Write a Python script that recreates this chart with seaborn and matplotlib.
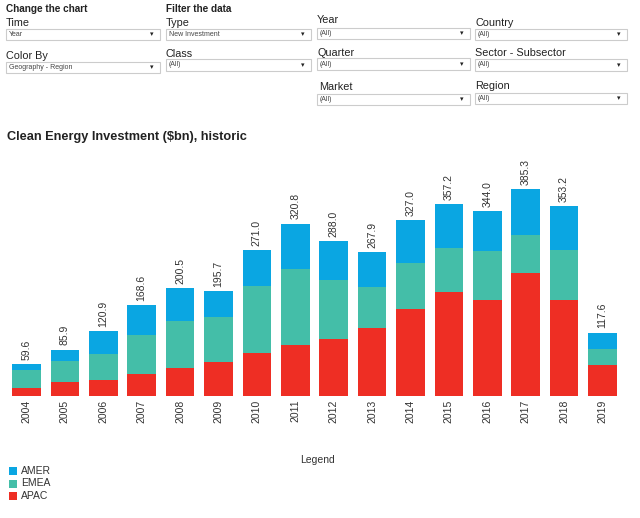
import numpy as np
import pandas as pd
import matplotlib
matplotlib.use("Agg")
import matplotlib.pyplot as plt
import seaborn as sns
from matplotlib.patches import Rectangle

# values ($bn)
years = ["2004", "2005", "2006", "2007", "2008", "2009", "2010", "2011",
         "2012", "2013", "2014", "2015", "2016", "2017", "2018", "2019"]
apac = [14.9, 25.5, 29.2, 40.4, 51.6, 62.2, 79.6, 93.8,
        106.3, 126.2, 162.2, 192.8, 178.4, 228.7, 178.4, 57.8]
emea = [32.9, 39.2, 48.5, 72.7, 87.0, 84.5, 124.3, 142.3,
        109.4, 75.9, 85.8, 82.6, 91.4, 70.8, 93.2, 29.8]
totals = [59.6, 85.9, 120.9, 168.6, 200.5, 195.7, 271.0, 320.8,
          288.0, 267.9, 327.0, 357.2, 344.0, 385.3, 353.2, 117.6]

regions = ["AMER", "EMEA", "APAC"]
colors = {"AMER": "#0AA6E2", "EMEA": "#44BEA8", "APAC": "#EE2E24"}

sns.set_theme(style="white")
plt.rcParams["font.family"] = ["Liberation Sans", "DejaVu Sans"]

df = pd.DataFrame({"year": years, "apac": apac, "emea": emea, "total": totals})
df["emea_top"] = df["apac"] + df["emea"]

W, H = 640, 518
fig = plt.figure(figsize=(W / 100, H / 100), dpi=100)


def px(x, y):
    return x / W, 1 - y / H


# ---- filter panel (static) ----
def dropdown(x0, x1, y0, y1, label):
    fx, fy = px(x0, y1)
    fig.patches.append(Rectangle((fx, fy), (x1 - x0) / W, (y1 - y0) / H,
                                 transform=fig.transFigure, facecolor="white",
                                 edgecolor="#cccccc", linewidth=0.8))
    tx, ty = px(x0 + 3, (y0 + y1) / 2)
    fig.text(tx, ty, label, fontsize=5, color="#444444", va="center")
    ax_, ay_ = px(x1 - 8, (y0 + y1) / 2)
    fig.text(ax_, ay_, "\u25BE", fontsize=5, color="#222222", va="center", ha="center",
             family=["DejaVu Sans"])


def label(x, y, s, bold=False, size=7.8):
    fx, fy = px(x, y)
    fig.text(fx, fy, s, fontsize=size, color="#222222", va="center",
             fontweight="bold" if bold else "normal")


label(6, 9, "Change the chart", bold=True, size=7.2)
label(6, 23, "Time")
dropdown(6, 160, 29, 40, "Year")
label(6, 56, "Color By")
dropdown(6, 160, 62, 73, "Geography - Region")

label(166, 9, "Filter the data", bold=True, size=7.2)
label(166, 23, "Type")
dropdown(166, 311, 29, 40, "New Investment")
label(166, 54, "Class")
dropdown(166, 311, 59, 71, "(All)")

label(317, 20, "Year")
dropdown(317, 470, 28, 39, "(All)")
label(317, 53, "Quarter")
dropdown(317, 470, 58, 70, "(All)")
label(319, 87, "Market")
dropdown(317, 470, 94, 105, "(All)")

label(475, 23, "Country")
dropdown(475, 627, 29, 40, "(All)")
label(475, 53, "Sector - Subsector")
dropdown(475, 627, 59, 71, "(All)")
label(475, 86, "Region")
dropdown(475, 627, 93, 104, "(All)")

tx, ty = px(7, 137)
fig.text(tx, ty, "Clean Energy Investment ($bn), historic", fontsize=9.2,
         fontweight="bold", color="#222222", va="center")

# ---- chart ----
ax = fig.add_axes([7.3 / W, 1 - 395.7 / H, 614.4 / W, 225.3 / H])
for col, reg in [("total", "AMER"), ("emea_top", "EMEA"), ("apac", "APAC")]:
    sns.barplot(data=df, x="year", y=col, color=colors[reg], saturation=1,
                width=0.74, linewidth=0, ax=ax)

for i, t in enumerate(df["total"]):
    ax.annotate(f"{t:.1f}", (i, t), xytext=(0, 3), textcoords="offset points",
                rotation=90, ha="center", va="bottom", fontsize=7.5,
                color="#333333", annotation_clip=False)

ax.set_ylim(0, 420)
ax.set_xlim(-0.5, len(years) - 0.5)
ax.set_xlabel("")
ax.set_ylabel("")
ax.set_yticks([])
ax.tick_params(axis="x", length=0, pad=3, labelsize=7.5, labelcolor="#333333")
for lab in ax.get_xticklabels():
    lab.set_rotation(90)
for s in ax.spines.values():
    s.set_visible(False)

# ---- legend ----
lx, ly = px(300, 460)
fig.text(lx, ly, "Legend", fontsize=7.5, color="#333333", va="center")
for k, r in enumerate(regions):
    y0 = 467 + k * 12.5
    fx, fy = px(9, y0 + 8)
    fig.patches.append(Rectangle((fx, fy), 8 / W, 8 / H, transform=fig.transFigure,
                                 facecolor=colors[r], edgecolor="none"))
    tx, ty = px(21, y0 + 4)
    fig.text(tx, ty, r, fontsize=7.5, color="#333333", va="center")

fig.savefig("out.png", dpi=100)
